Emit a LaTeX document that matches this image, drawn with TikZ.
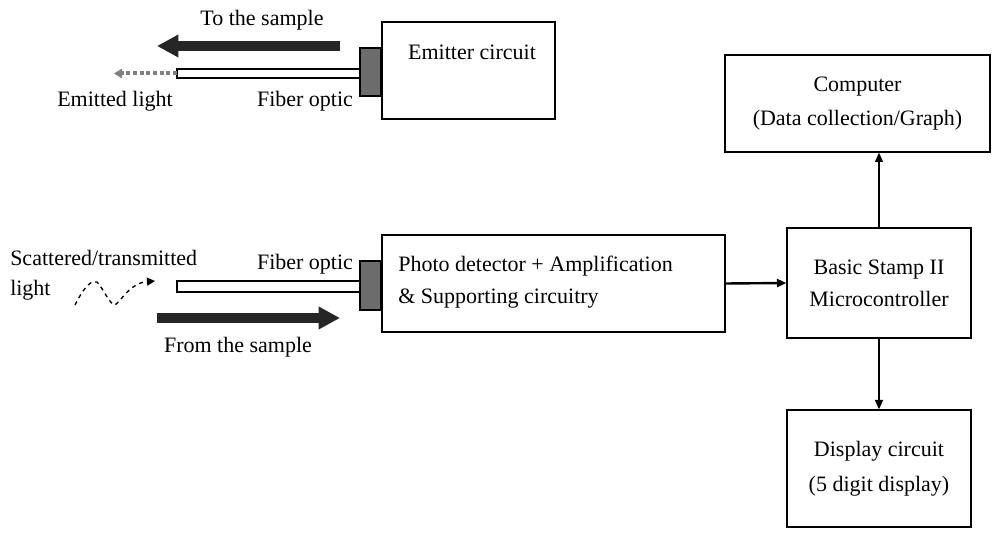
\documentclass[tikz,border=0pt]{standalone}
\usepackage{fontspec}
\setmainfont{Liberation Serif}
\usetikzlibrary{arrows.meta,decorations.pathmorphing}
\begin{document}
\begin{tikzpicture}[x=0.75pt,y=-0.75pt,
  box/.style={draw,line width=1pt,inner sep=0pt},
  lbl/.style={font=\fontsize{16.5}{19}\selectfont,inner sep=0pt},
  blk/.style={draw,line width=1pt,fill=gray!85!black},
  fib/.style={draw,line width=0.8pt,fill=white},
  big/.style={line width=7pt,-{Triangle[length=16pt,width=16pt]},black!85},
  con/.style={line width=1pt,-{Triangle[length=7pt,width=6pt]}}]
\useasboundingbox (0,0) rectangle (1000,534);
% emitter
\node[box,minimum width=173*0.75pt,minimum height=97*0.75pt] (em) at (468.5,70.5) {};
\node[lbl] (emt) at (472,52) {Emitter circuit};
\draw[blk] (360,48) rectangle (381,96);
\draw[fib] (177,69) rectangle (360,78);
\coordinate (ta1) at (340,46); \coordinate (ta2) at (157,46);
\draw[big] (ta1) -- (ta2);
\coordinate (el1) at (177,73.5); \coordinate (el2) at (114,73.5);
\draw[gray,line width=3pt,dotted,-{Triangle[length=6pt,width=7pt]}] (el1) -- (el2);
\node[lbl] (ts) at (262,20) {To the sample};
\node[lbl] (elt) at (115,101) {Emitted light};
\node[lbl] (fo1) at (305,101) {Fiber optic};
% detector
\node[box,minimum width=343*0.75pt,minimum height=97*0.75pt] (pd) at (553.5,283.5) {};
\node[lbl,align=left,anchor=west] (pdt) at (398,282) {Photo detector + Amplification\\[5pt]\& Supporting circuitry};
\draw[blk] (360,261) rectangle (381,310);
\draw[fib] (177,281) rectangle (360,292);
\coordinate (fa1) at (157,318); \coordinate (fa2) at (340,318);
\draw[big] (fa1) -- (fa2);
\coordinate (w0) at (75,305); \coordinate (w1) at (155,281);
\draw[dashed,line width=1pt,-{Triangle[length=6pt,width=6pt]}] (w0) .. controls (85,285) and (92,280) .. (97,282) .. controls (103,288) and (110,305) .. (115,305) .. controls (122,300) and (130,283) .. (w1);
\node[lbl,anchor=west] (sc) at (10,258) {Scattered/transmitted};
\node[lbl,anchor=west] (li) at (10,290) {light};
\node[lbl] (fs) at (238,347) {From the sample};
\node[lbl] (fo2) at (305,264) {Fiber optic};
% right column
\node[box,minimum width=184*0.75pt,minimum height=110*0.75pt,align=center,font=\fontsize{16.5}{24}\selectfont] (mc) at (879,283) {Basic Stamp II\\Microcontroller};
\node[box,minimum width=265*0.75pt,minimum height=97*0.75pt,align=center,font=\fontsize{16.5}{26}\selectfont] (pc) at (857.5,103.5) {Computer\\(Data collection/Graph)};
\node[box,minimum width=184*0.75pt,minimum height=117*0.75pt,align=center,font=\fontsize{16.5}{26}\selectfont] (dc) at (879,468.5) {Display circuit\\(5 digit display)};
\draw[con,line width=1.8pt] (pd.east) -- (mc.west);
\draw[con] (mc.north) -- (mc.north|-pc.south);
\draw[con] (mc.south) -- (dc.north);
\end{tikzpicture}
\end{document}
